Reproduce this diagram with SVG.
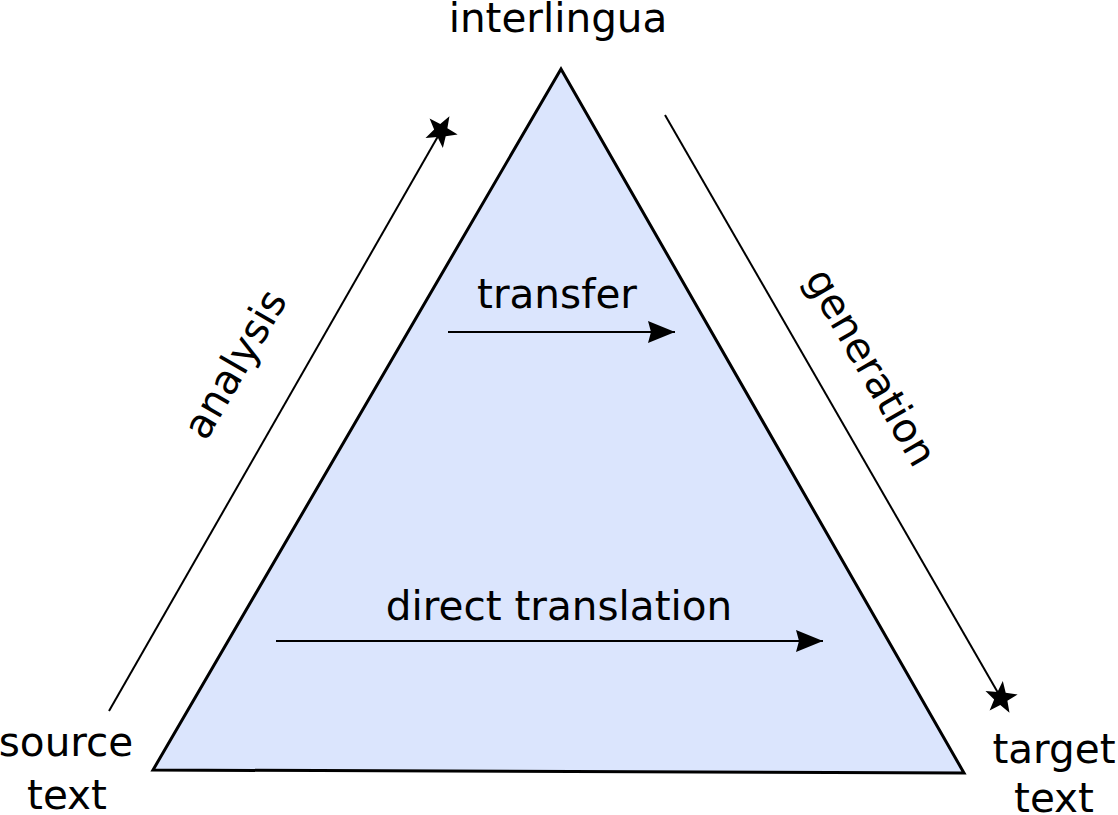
<svg xmlns="http://www.w3.org/2000/svg" width="1118" height="815" viewBox="0 0 1118 815">
  <style>
    .lbl { font-family: "DejaVu Sans", "Liberation Sans", sans-serif; font-size: 40.5px; fill: #000; text-anchor: middle; }
    .conn { stroke: #000; stroke-width: 2; fill: none; }
  </style>
  <defs>
    <marker id="arrow" markerUnits="userSpaceOnUse" viewBox="-30 -15 32 30" markerWidth="32" markerHeight="30" refX="0" refY="0" orient="auto" overflow="visible">
      <path d="M0,0 L-27,-11 L-24,0 L-27,11 Z" fill="#000"/>
    </marker>
    <marker id="star" markerUnits="userSpaceOnUse" viewBox="-20 -20 40 40" markerWidth="40" markerHeight="40" refX="0" refY="0" orient="auto" overflow="visible">
      <path d="M17,0 L5.66,4.11 L5.25,16.17 L-2.16,6.66 L-13.75,10 L-7,0 L-13.75,-10 L-2.16,-6.66 L5.25,-16.17 L5.66,-4.11 Z" fill="#000"/>
    </marker>
  </defs>

  <g id="triangle">
    <polygon points="153,770 561,69 964,773" fill="#dbe5fd" stroke="#000" stroke-width="3" stroke-linejoin="miter"/>
  </g>

  <g id="connectors">
    <line class="conn" x1="109" y1="711" x2="441" y2="131" marker-end="url(#star)"/>
    <line class="conn" x1="665" y1="115" x2="1001" y2="698" marker-end="url(#star)"/>
    <line class="conn" x1="448" y1="332" x2="675" y2="332" marker-end="url(#arrow)"/>
    <line class="conn" x1="276" y1="641" x2="823" y2="641" marker-end="url(#arrow)"/>
  </g>

  <g id="interlingua"><text class="lbl" x="558" y="32">interlingua</text></g>
  <g id="source-text">
    <text class="lbl" x="66" y="756">source</text>
    <text class="lbl" x="67" y="809">text</text>
  </g>
  <g id="target-text">
    <text class="lbl" x="1054" y="763">target</text>
    <text class="lbl" x="1054" y="812">text</text>
  </g>
  <g id="transfer-label"><text class="lbl" x="557" y="308">transfer</text></g>
  <g id="direct-label"><text class="lbl" x="559" y="620">direct translation</text></g>
  <g id="analysis-label"><text class="lbl" transform="translate(247,371) rotate(-60)">analysis</text></g>
  <g id="generation-label"><text class="lbl" transform="translate(859,374) rotate(60)">generation</text></g>
</svg>
